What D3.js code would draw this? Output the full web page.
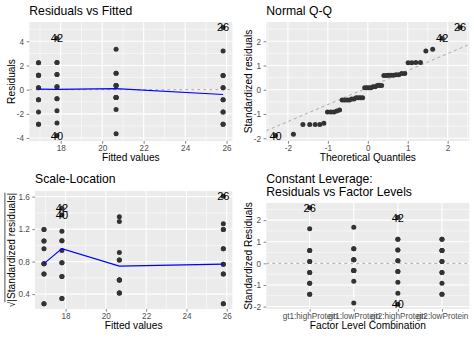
<!DOCTYPE html>
<html lang="en">
<head>
<meta charset="utf-8">
<title>lm diagnostics</title>
<script src="https://d3js.org/d3.v7.min.js"></script>
<style>
body { margin: 0; background: #fff; }
svg { font-family: "Liberation Sans", Arial, sans-serif; }
</style>
</head>
<body>
<script>
// factor level combinations (order of the last panel)
var groups = ["gt1:highProtein", "gt1:lowProtein", "gt2:highProtein", "gt2:lowProtein"];
var fitted = [25.83, 20.67, 17.82, 16.93];

// 12 observations per group
var residuals = [
  [5.15, 3.2, 1.18, 1.18, 0.16, 0.16, -0.84, -0.84, -1.84, -1.84, -2.86, -2.86],
  [3.35, 1.35, 1.35, 0.35, 0.35, 0.35, -0.65, -0.65, -0.65, -0.65, -1.65, -3.65],
  [4.25, 2.25, 2.25, 1.25, 1.25, 0.25, 0.25, -0.75, -0.75, -1.75, -2.75, -3.8],
  [2.22, 2.22, 1.2, 1.2, 1.2, 0.16, 0.16, -0.84, -0.84, -1.84, -2.86, -2.86]
];
var stdResiduals = [
  [2.57, 1.6, 0.59, 0.59, 0.08, 0.08, -0.42, -0.42, -0.92, -0.92, -1.43, -1.43],
  [1.67, 0.67, 0.67, 0.17, 0.17, 0.17, -0.33, -0.33, -0.33, -0.33, -0.83, -1.83],
  [2.12, 1.12, 1.12, 0.62, 0.62, 0.12, 0.12, -0.38, -0.38, -0.88, -1.38, -1.89],
  [1.11, 1.11, 0.6, 0.6, 0.6, 0.08, 0.08, -0.42, -0.42, -0.92, -1.43, -1.43]
];
// observation numbers shown on the plots: [group, index, label]
var labelled = [[0, 0, "26"], [2, 0, "42"], [2, 11, "40"]];

// normal quantiles for 48 points
var theoretical = [-2.311, -1.863, -1.625, -1.454, -1.318, -1.203, -1.101, -1.010, -0.926, -0.849,
  -0.776, -0.708, -0.643, -0.579, -0.519, -0.460, -0.402, -0.346, -0.291, -0.237, -0.184, -0.131,
  -0.078, -0.026, 0.026, 0.078, 0.131, 0.184, 0.237, 0.291, 0.346, 0.402, 0.460, 0.519, 0.579,
  0.643, 0.708, 0.776, 0.849, 0.926, 1.010, 1.101, 1.203, 1.318, 1.454, 1.625, 1.863, 2.311];
var qqIntercept = 0.09, qqSlope = 0.70;

// smoother lines
var smoothX = [16.93, 17.82, 20.67, 25.83];
var smoothResid = [0.05, 0.03, 0.08, -0.4];
var smoothScale = [0.775, 0.96, 0.745, 0.77];

// tick values
var fittedTicks = [18, 20, 22, 24, 26];
var residTicks = [-4, -2, 0, 2, 4];
var qqTicks = [-2, -1, 0, 1, 2];
var stdTicks = [-2, -1, 0, 1, 2];
var scaleTicks = [0.4, 0.8, 1.2, 1.6];

var W = 474, H = 338;
var svg = d3.select("body").append("svg").attr("width", W).attr("height", H);

var obs = [];
groups.forEach(function(name, g) {
  residuals[g].forEach(function(r, i) {
    obs.push({g: g, i: i, fitted: fitted[g], resid: r, std: stdResiduals[g][i], id: null});
  });
});
labelled.forEach(function(l) {
  obs.find(function(d) { return d.g === l[0] && d.i === l[1]; }).id = l[2];
});
var qq = d3.sort(obs, function(d) { return d.std; });
qq.forEach(function(d, i) { d.theo = theoretical[i]; });

function expand(ext, m) {
  var d = ext[1] - ext[0];
  return [ext[0] - d * m, ext[1] + d * m];
}
function minor(major, dom) {
  var step = major[1] - major[0], out = [];
  for (var v = major[0] - step / 2; v <= dom[1] + 1e-9; v += step) {
    if (v >= dom[0]) out.push(v);
  }
  return out;
}

var ptColor = "#333333", dashColor = "#a0a0a0", lineColor = "#0000FF";
var clipN = 0;

function frame(p, x, y, xt, yt, xMinor, yMinor, xFormat) {
  var g = svg.append("g");
  g.append("rect").attr("x", p.x0).attr("y", p.y0)
    .attr("width", p.x1 - p.x0).attr("height", p.y1 - p.y0).attr("fill", "#EBEBEB");
  g.selectAll(".vm").data(xMinor).join("line")
    .attr("x1", x).attr("x2", x).attr("y1", p.y0).attr("y2", p.y1)
    .attr("stroke", "#fff").attr("stroke-width", 0.55);
  g.selectAll(".hm").data(yMinor).join("line")
    .attr("x1", p.x0).attr("x2", p.x1).attr("y1", y).attr("y2", y)
    .attr("stroke", "#fff").attr("stroke-width", 0.55);
  g.selectAll(".vM").data(xt).join("line")
    .attr("x1", x).attr("x2", x).attr("y1", p.y0).attr("y2", p.y1)
    .attr("stroke", "#fff").attr("stroke-width", 1.1);
  g.selectAll(".hM").data(yt).join("line")
    .attr("x1", p.x0).attr("x2", p.x1).attr("y1", y).attr("y2", y)
    .attr("stroke", "#fff").attr("stroke-width", 1.1);

  var gx = g.append("g").attr("transform", "translate(0," + p.y1 + ")")
    .call(d3.axisBottom(x).tickValues(xt).tickSize(2.7)
      .tickFormat(xFormat || function(d) { return String(d); }));
  var gy = g.append("g").attr("transform", "translate(" + p.x0 + ",0)")
    .call(d3.axisLeft(y).tickValues(yt).tickSize(2.7).tickPadding(2.5)
      .tickFormat(function(d) { return String(d); }));
  [gx, gy].forEach(function(a) {
    a.attr("font-size", null).attr("font-family", null);
    a.select(".domain").remove();
    a.selectAll("line").attr("stroke", "#333").attr("stroke-width", 0.6);
    a.selectAll("text").attr("fill", "#4D4D4D").attr("font-size", 8.2);
  });
  gx.selectAll("text").attr("y", 9.8).attr("dy", null);
  gy.selectAll("text").attr("dy", "0.34em");

  clipN++;
  svg.append("clipPath").attr("id", "c" + clipN).append("rect")
    .attr("x", p.x0).attr("y", p.y0).attr("width", p.x1 - p.x0).attr("height", p.y1 - p.y0);
  return svg.append("g").attr("clip-path", "url(#c" + clipN + ")");
}

function titles(p, title, xTitle, yTitle) {
  var t = svg.append("text").attr("x", p.x0).attr("font-size", 12.2).attr("fill", "#000");
  if (title.length === 1) {
    t.attr("y", p.titleY).text(title[0]);
  } else {
    title.forEach(function(s, i) {
      t.append("tspan").attr("x", p.x0).attr("y", p.titleY + i * 13.6).text(s);
    });
  }
  svg.append("text").attr("x", (p.x0 + p.x1) / 2).attr("y", p.y1 + 20.3)
    .attr("text-anchor", "middle").attr("font-size", 10.2).text(xTitle);
  var yt = svg.append("text")
    .attr("transform", "translate(" + (p.left + 14.5) + "," + ((p.y0 + p.y1) / 2) + ") rotate(-90)")
    .attr("text-anchor", "middle").attr("font-size", 10.2).text(yTitle);
  return yt;
}

function points(g, data, fx, fy) {
  g.selectAll(null).data(data).join("circle")
    .attr("cx", fx).attr("cy", fy).attr("r", 2.5).attr("fill", ptColor);
}
function labels(g, data, fx, fy) {
  g.selectAll(null).data(data.filter(function(d) { return d.id; })).join("text")
    .attr("x", fx).attr("y", fy).attr("dy", "0.36em").attr("text-anchor", "middle")
    .attr("font-size", 11).attr("fill", "#000").text(function(d) { return d.id; });
}

// ---- Residuals vs Fitted
var p1 = {x0: 29.3, x1: 232.3, y0: 22, y1: 141, left: 0, titleY: 14.5};
var x1 = d3.scaleLinear().domain(expand(d3.extent(fitted), 0.05)).range([p1.x0, p1.x1]);
var y1 = d3.scaleLinear().domain(expand(d3.extent(obs, function(d) { return d.resid; }), 0.05)).range([p1.y1, p1.y0]);
var g1 = frame(p1, x1, y1, fittedTicks, residTicks, minor(fittedTicks, x1.domain()), minor(residTicks, y1.domain()));
g1.append("line").attr("x1", p1.x0).attr("x2", p1.x1).attr("y1", y1(0)).attr("y2", y1(0))
  .attr("stroke", dashColor).attr("stroke-width", 0.9).attr("stroke-dasharray", "3,3");
points(g1, obs, function(d) { return x1(d.fitted); }, function(d) { return y1(d.resid); });
g1.append("path").datum(d3.zip(smoothX, smoothResid))
  .attr("d", d3.line().x(function(d) { return x1(d[0]); }).y(function(d) { return y1(d[1]); }))
  .attr("fill", "none").attr("stroke", lineColor).attr("stroke-width", 1.2);
labels(g1, obs, function(d) { return x1(d.fitted); }, function(d) { return y1(d.resid); });
titles(p1, ["Residuals vs Fitted"], "Fitted values", "Residuals");

// ---- Normal Q-Q
var p2 = {x0: 266.3, x1: 469.3, y0: 22, y1: 141, left: 237, titleY: 14.5};
var x2 = d3.scaleLinear().domain(expand(d3.extent(theoretical), 0.05)).range([p2.x0, p2.x1]);
var y2 = d3.scaleLinear().domain(expand(d3.extent(qq, function(d) { return d.std; }), 0.05)).range([p2.y1, p2.y0]);
var g2 = frame(p2, x2, y2, qqTicks, stdTicks, minor(qqTicks, x2.domain()), minor(stdTicks, y2.domain()));
var xd = x2.domain();
g2.append("line").attr("x1", x2(xd[0])).attr("x2", x2(xd[1]))
  .attr("y1", y2(qqIntercept + qqSlope * xd[0])).attr("y2", y2(qqIntercept + qqSlope * xd[1]))
  .attr("stroke", dashColor).attr("stroke-width", 0.9).attr("stroke-dasharray", "3,3");
points(g2, qq, function(d) { return x2(d.theo); }, function(d) { return y2(d.std); });
labels(g2, qq, function(d) { return x2(d.theo); }, function(d) { return y2(d.std); });
titles(p2, ["Normal Q-Q"], "Theoretical Quantiles", "Standardized residuals");

// ---- Scale-Location
var p3 = {x0: 35, x1: 232.3, y0: 191, y1: 309, left: 0, titleY: 183};
var sl = function(d) { return Math.sqrt(Math.abs(d.std)); };
var x3 = d3.scaleLinear().domain(expand(d3.extent(fitted), 0.05)).range([p3.x0, p3.x1]);
var y3 = d3.scaleLinear().domain(expand(d3.extent(obs, sl), 0.05)).range([p3.y1, p3.y0]);
var g3 = frame(p3, x3, y3, fittedTicks, scaleTicks, minor(fittedTicks, x3.domain()), minor(scaleTicks, y3.domain()));
points(g3, obs, function(d) { return x3(d.fitted); }, function(d) { return y3(sl(d)); });
g3.append("path").datum(d3.zip(smoothX, smoothScale))
  .attr("d", d3.line().x(function(d) { return x3(d[0]); }).y(function(d) { return y3(d[1]); }))
  .attr("fill", "none").attr("stroke", lineColor).attr("stroke-width", 1.2);
labels(g3, obs, function(d) { return x3(d.fitted); }, function(d) { return y3(sl(d)); });
var yt3 = titles(p3, ["Scale-Location"], "Fitted values", "\u221A|Standardized residuals|");
var full = yt3.node().getComputedTextLength();
var rootW = yt3.node().getSubStringLength(0, 1);
svg.append("line")
  .attr("transform", "translate(" + (p3.left + 14.5) + "," + ((p3.y0 + p3.y1) / 2) + ") rotate(-90)")
  .attr("x1", -full / 2 + rootW - 0.5).attr("x2", full / 2).attr("y1", -9.6).attr("y2", -9.6)
  .attr("stroke", "#000").attr("stroke-width", 0.7);

// ---- Constant Leverage
var p4 = {x0: 266.3, x1: 469.3, y0: 203, y1: 309, left: 237, titleY: 182.7};
var x4 = d3.scaleLinear().domain([0.016, 4.62]).range([p4.x0, p4.x1]);
var y4 = d3.scaleLinear().domain(expand(d3.extent(obs, function(d) { return d.std; }), 0.05)).range([p4.y1, p4.y0]);
var g4 = frame(p4, x4, y4, [1, 2, 3, 4], stdTicks, [], minor(stdTicks, y4.domain()),
  function(d) { return groups[d - 1]; });
g4.append("line").attr("x1", p4.x0).attr("x2", p4.x1).attr("y1", y4(0)).attr("y2", y4(0))
  .attr("stroke", dashColor).attr("stroke-width", 0.9).attr("stroke-dasharray", "3,3");
points(g4, obs, function(d) { return x4(d.g + 1); }, function(d) { return y4(d.std); });
labels(g4, obs, function(d) { return x4(d.g + 1); }, function(d) { return y4(d.std); });
titles(p4, ["Constant Leverage:", "Residuals vs Factor Levels"], "Factor Level Combination", "Standardized Residuals");
</script>
</body>
</html>
